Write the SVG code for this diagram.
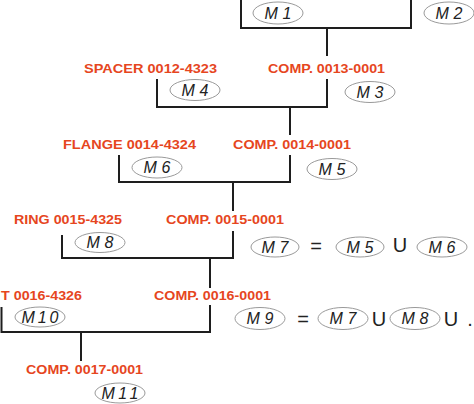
<svg xmlns="http://www.w3.org/2000/svg" width="474" height="404" viewBox="0 0 474 404">
<style>
.bg{fill:#fff}
.ln{fill:none;stroke:#1e1e1e;stroke-width:2}
.lbl{font-family:"Liberation Sans",Arial,sans-serif;font-weight:bold;font-size:12.5px;fill:#e6461e}
.el{fill:#fff;stroke:#9a9a9a;stroke-width:1}
.m{font-family:"Liberation Sans",Arial,sans-serif;font-style:italic;font-size:16px;fill:#222;text-anchor:middle}
.op{font-family:"Liberation Sans",Arial,sans-serif;font-size:20px;fill:#222;text-anchor:middle}
</style>
<rect class="bg" x="0" y="0" width="474" height="404"/>
<g id="connectors">
<path class="ln" d="M241,0 V28 H411 V0 M327,28 V56"/>
<path class="ln" d="M157,79 V107 H327 V79 M290,107 V135"/>
<path class="ln" d="M119,155 V182 H290 V155 M233,182 V211"/>
<path class="ln" d="M62,235 V258 H233 V231 M210,258 V288"/>
<path class="ln" d="M1.5,307 V332 H210 V305 M81,332 V361"/>
</g>
<g id="m1"><ellipse class="el" cx="278" cy="13" rx="25" ry="11"/><text class="m" x="278" y="18.5" textLength="27" lengthAdjust="spacing">M1</text></g>
<g id="m2"><ellipse class="el" cx="449" cy="13" rx="25" ry="11"/><text class="m" x="449" y="18.5" textLength="27" lengthAdjust="spacing">M2</text></g>
<g id="spacer"><text class="lbl" x="84" y="73" textLength="133" lengthAdjust="spacingAndGlyphs">SPACER 0012-4323</text></g>
<g id="comp13"><text class="lbl" x="268" y="73" textLength="117" lengthAdjust="spacingAndGlyphs">COMP. 0013-0001</text></g>
<g id="m4"><ellipse class="el" cx="195" cy="90" rx="25" ry="10.5"/><text class="m" x="195" y="95.5" textLength="27" lengthAdjust="spacing">M4</text></g>
<g id="m3"><ellipse class="el" cx="370" cy="92" rx="25" ry="10.5"/><text class="m" x="370" y="97.5" textLength="27" lengthAdjust="spacing">M3</text></g>
<g id="flange"><text class="lbl" x="63" y="149" textLength="133" lengthAdjust="spacingAndGlyphs">FLANGE 0014-4324</text></g>
<g id="comp14"><text class="lbl" x="233" y="149" textLength="118" lengthAdjust="spacingAndGlyphs">COMP. 0014-0001</text></g>
<g id="m6"><ellipse class="el" cx="157" cy="167.5" rx="25" ry="10.5"/><text class="m" x="157" y="173" textLength="27" lengthAdjust="spacing">M6</text></g>
<g id="m5"><ellipse class="el" cx="332" cy="169" rx="25" ry="10.5"/><text class="m" x="332" y="174.5" textLength="27" lengthAdjust="spacing">M5</text></g>
<g id="ring"><text class="lbl" x="14" y="224" textLength="108" lengthAdjust="spacingAndGlyphs">RING 0015-4325</text></g>
<g id="comp15"><text class="lbl" x="166" y="224" textLength="118" lengthAdjust="spacingAndGlyphs">COMP. 0015-0001</text></g>
<g id="m8"><ellipse class="el" cx="100" cy="242.5" rx="25" ry="10"/><text class="m" x="100" y="248" textLength="27" lengthAdjust="spacing">M8</text></g>
<g id="eq1">
<ellipse class="el" cx="275" cy="247" rx="24" ry="10"/><text class="m" x="275" y="252.5" textLength="27" lengthAdjust="spacing">M7</text>
<text class="op" x="316" y="253">=</text>
<ellipse class="el" cx="360" cy="247" rx="24" ry="10"/><text class="m" x="360" y="252.5" textLength="27" lengthAdjust="spacing">M5</text>
<text class="op" x="400" y="252">U</text>
<ellipse class="el" cx="442" cy="247" rx="25" ry="10"/><text class="m" x="442" y="252.5" textLength="27" lengthAdjust="spacing">M6</text>
</g>
<g id="t16"><text class="lbl" x="1" y="300" textLength="81" lengthAdjust="spacingAndGlyphs">T 0016-4326</text></g>
<g id="comp16"><text class="lbl" x="154" y="300" textLength="117" lengthAdjust="spacingAndGlyphs">COMP. 0016-0001</text></g>
<g id="m10"><ellipse class="el" cx="40" cy="317" rx="25" ry="10"/><text class="m" x="40" y="322.5" textLength="37" lengthAdjust="spacing">M10</text></g>
<g id="eq2">
<ellipse class="el" cx="260" cy="318.5" rx="25" ry="11"/><text class="m" x="260" y="324" textLength="27" lengthAdjust="spacing">M9</text>
<text class="op" x="303" y="326">=</text>
<ellipse class="el" cx="343" cy="318.5" rx="25" ry="11"/><text class="m" x="343" y="324" textLength="27" lengthAdjust="spacing">M7</text>
<text class="op" x="379" y="326">U</text>
<ellipse class="el" cx="415" cy="318.5" rx="25" ry="11"/><text class="m" x="415" y="324" textLength="27" lengthAdjust="spacing">M8</text>
<text class="op" x="451" y="326">U</text>
<text class="op" x="470" y="326">.</text>
</g>
<g id="comp17"><text class="lbl" x="26" y="374" textLength="117" lengthAdjust="spacingAndGlyphs">COMP. 0017-0001</text></g>
<g id="m11"><ellipse class="el" cx="120" cy="393" rx="25" ry="10"/><text class="m" x="120" y="398.5" textLength="37" lengthAdjust="spacing">M11</text></g>
</svg>
